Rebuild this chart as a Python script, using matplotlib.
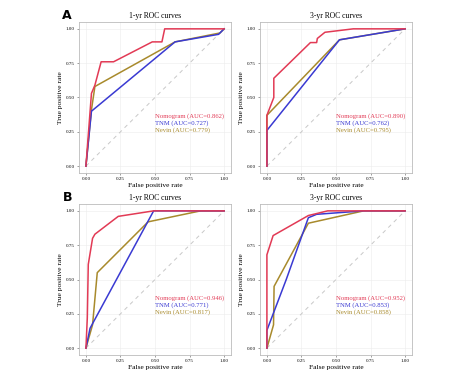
import matplotlib.pyplot as plt

plt.rcParams['font.family'] = ['Liberation Serif', 'DejaVu Serif']

RED = "#e23a55"
BLUE = "#3a3ad2"
OLIVE = "#a88a2c"

# panel A, 1-yr
a1_nomo_x = [0, 0.04, 0.065, 0.11, 0.20, 0.48, 0.55, 0.57, 1.0]
a1_nomo_y = [0, 0.53, 0.59, 0.76, 0.76, 0.905, 0.905, 1.0, 1.0]
a1_tnm_x = [0, 0.04, 0.645, 0.96, 1.0]
a1_tnm_y = [0, 0.40, 0.905, 0.96, 1.0]
a1_nevin_x = [0, 0.04, 0.065, 0.645, 0.97, 1.0]
a1_nevin_y = [0, 0.41, 0.58, 0.905, 0.97, 1.0]

# panel A, 3-yr
a3_nomo_x = [0, 0, 0.05, 0.05, 0.315, 0.36, 0.365, 0.42, 0.625, 1.0]
a3_nomo_y = [0, 0.37, 0.50, 0.64, 0.90, 0.90, 0.93, 0.975, 1.0, 1.0]
a3_tnm_x = [0, 0, 0.525, 1.0]
a3_tnm_y = [0, 0.26, 0.92, 1.0]
a3_nevin_x = [0, 0, 0.525, 1.0]
a3_nevin_y = [0, 0.37, 0.92, 1.0]

# panel B, 1-yr
b1_nomo_x = [0, 0.01, 0.017, 0.048, 0.065, 0.234, 0.49, 1.0]
b1_nomo_y = [0, 0.22, 0.61, 0.80, 0.83, 0.96, 1.0, 1.0]
b1_tnm_x = [0, 0.03, 0.49, 1.0]
b1_tnm_y = [0, 0.145, 1.0, 1.0]
b1_nevin_x = [0, 0.048, 0.082, 0.45, 0.83, 1.0]
b1_nevin_y = [0, 0.17, 0.55, 0.92, 1.0, 1.0]

# panel B, 3-yr
b3_nomo_x = [0, 0, 0.045, 0.30, 0.44, 1.0]
b3_nomo_y = [0, 0.68, 0.82, 0.966, 1.0, 1.0]
b3_tnm_x = [0, 0, 0.14, 0.30, 0.36, 0.70, 1.0]
b3_tnm_y = [0, 0.13, 0.50, 0.95, 0.975, 1.0, 1.0]
b3_nevin_x = [0, 0.048, 0.052, 0.30, 0.70, 1.0]
b3_nevin_y = [0, 0.17, 0.45, 0.91, 1.0, 1.0]

panels = [
    ("1-yr ROC curves", "A", (a1_nomo_x, a1_nomo_y), (a1_tnm_x, a1_tnm_y), (a1_nevin_x, a1_nevin_y),
     ["0.862", "0.727", "0.779"]),
    ("3-yr ROC curves", None, (a3_nomo_x, a3_nomo_y), (a3_tnm_x, a3_tnm_y), (a3_nevin_x, a3_nevin_y),
     ["0.890", "0.762", "0.795"]),
    ("1-yr ROC curves", "B", (b1_nomo_x, b1_nomo_y), (b1_tnm_x, b1_tnm_y), (b1_nevin_x, b1_nevin_y),
     ["0.946", "0.771", "0.817"]),
    ("3-yr ROC curves", None, (b3_nomo_x, b3_nomo_y), (b3_tnm_x, b3_tnm_y), (b3_nevin_x, b3_nevin_y),
     ["0.952", "0.853", "0.858"]),
]

positions = [
    [0.1667, 0.5387, 0.3207, 0.4027],
    [0.5485, 0.5387, 0.3207, 0.4027],
    [0.1667, 0.0533, 0.3207, 0.4027],
    [0.5485, 0.0533, 0.3207, 0.4027],
]

fig = plt.figure(figsize=(4.74, 3.75), dpi=100)
ticks = [0, 0.25, 0.5, 0.75, 1.0]

for pos, (title, letter, nomo, tnm, nevin, aucs) in zip(positions, panels):
    ax = fig.add_axes(pos)
    ax.plot([0, 1], [0, 1], ls=(0, (4, 4)), color="#c8c8c8", lw=0.7)
    ax.plot(*nevin, color=OLIVE, lw=1.1)
    ax.plot(*tnm, color=BLUE, lw=1.1)
    ax.plot(*nomo, color=RED, lw=1.1)
    ax.set_xlim(-0.05, 1.05)
    ax.set_ylim(-0.05, 1.05)
    ax.set_xticks(ticks)
    ax.set_yticks(ticks)
    ax.set_xticklabels(["0.00", "0.25", "0.50", "0.75", "1.00"])
    ax.set_yticklabels(["0.00", "0.25", "0.50", "0.75", "1.00"])
    ax.tick_params(labelsize=3.6, length=1.5, width=0.4, color="#555555", pad=1.5)
    ax.grid(True, color="#ececec", lw=0.4)
    ax.set_axisbelow(True)
    for s in ax.spines.values():
        s.set_color("#bbbbbb")
        s.set_linewidth(0.6)
    ax.set_title(title, fontsize=5.5, pad=3)
    ax.set_xlabel("False positive rate", fontsize=5.4, labelpad=1.5)
    ax.set_ylabel("True positive rate", fontsize=5.4, labelpad=2)
    ax.text(0.5, 0.35, "Nomogram (AUC=%s)" % aucs[0], color=RED, fontsize=4.8)
    ax.text(0.5, 0.30, "TNM (AUC=%s)" % aucs[1], color=BLUE, fontsize=4.8)
    ax.text(0.5, 0.25, "Nevin (AUC=%s)" % aucs[2], color=OLIVE, fontsize=4.8)
    if letter:
        fig.text(pos[0] - 0.035, pos[1] + pos[3] + 0.0, letter, fontsize=9, fontweight="bold",
                 family="DejaVu Sans", ha="left", va="bottom")

fig.savefig("out.png", dpi=100)
